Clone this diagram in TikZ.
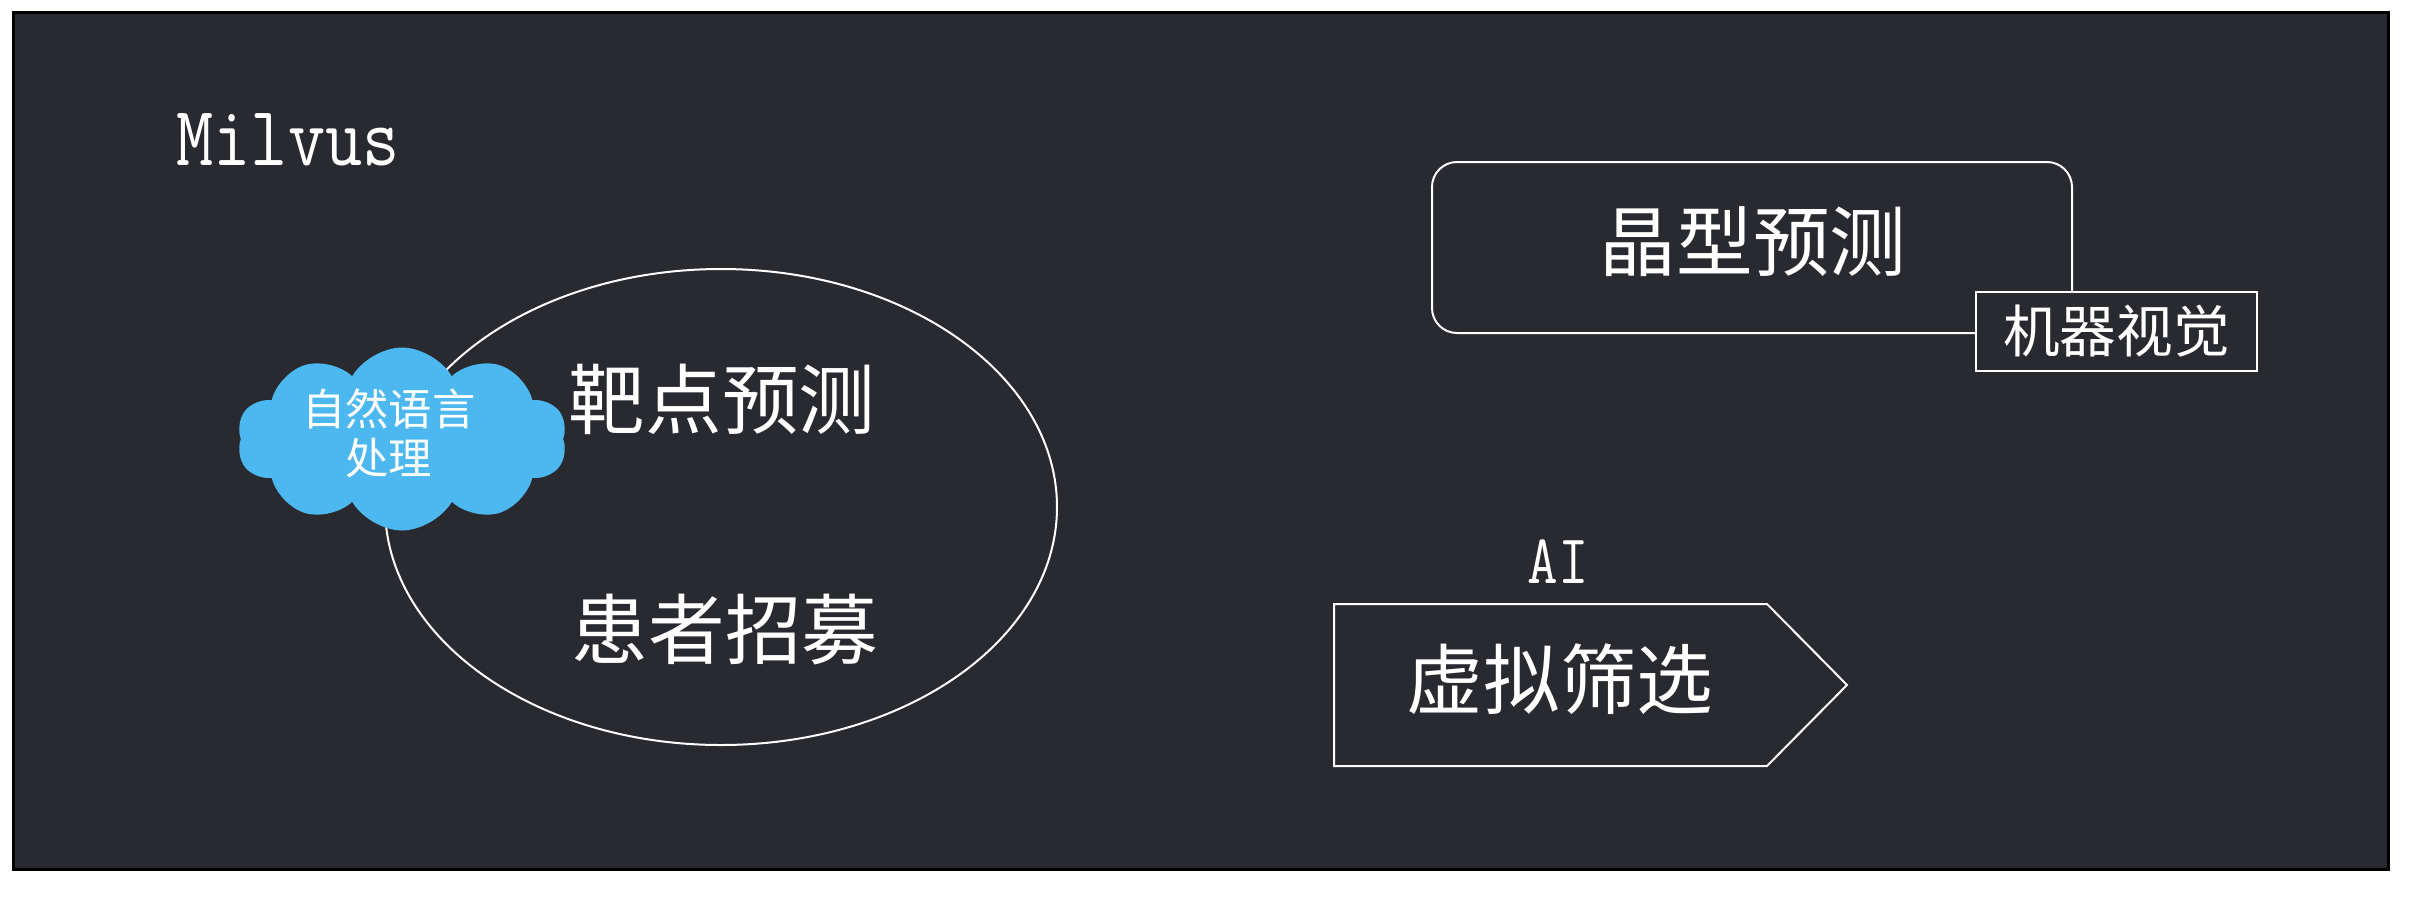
\documentclass[tikz,border=0pt]{standalone}
\usepackage{fontspec}
\newfontfamily\cjk{Noto Sans CJK SC}
\usetikzlibrary{shapes.geometric,shapes.symbols}
\definecolor{bgdark}{RGB}{41,42,47}
\definecolor{cloudblue}{RGB}{77,184,240}
\tikzset{
  lbl/.style={text=white,inner sep=0pt,font=\cjk\fontsize{23pt}{23pt}\selectfont},
  monolbl/.style={text=white,inner sep=0pt,xscale=0.85,font=\ttfamily\fontsize{25.5pt}{25.5pt}\selectfont},
  outline/.style={draw=white,line width=0.6pt},
}
\begin{document}
\begin{tikzpicture}[x=0.3pt,y=-0.3pt]
\useasboundingbox (0,0) rectangle (2420,897);
\fill[white] (0,0) rectangle (2420,897);
\draw[black,line width=0.9pt,fill=bgdark] (13,12) rectangle (2388,869);
\node[monolbl] (milvus) at (288,140) {Milvus};
% ellipse
\node[ellipse,outline,minimum width=201.6pt,minimum height=142.8pt,inner sep=0pt] (ell) at (721,507) {};
\node[cloud,cloud puffs=10,cloud puff arc=120,aspect=1.8,fill=cloudblue,draw=none,minimum width=99pt,minimum height=54.9pt,inner sep=0pt] (nlp) at (402,439) {};
\node[text=white,align=center,font=\cjk\fontsize{13pt}{14.7pt}\selectfont] (nlptext) at (389,433) {自然语言\\处理};
\node[lbl] (target) at (722,399) {靶点预测};
\node[lbl] (patient) at (725,630) {患者招募};
% crystal
\node[outline,rounded corners=7.5pt,minimum width=192pt,minimum height=51.3pt,inner sep=0pt] (crys) at (1752,247.5) {};
\node[lbl] (crystext) at (1753,242) {晶型预测};
\node[draw=white,line width=0.75pt,fill=bgdark,minimum width=84.3pt,minimum height=23.7pt,inner sep=0pt,text=white,font=\cjk\fontsize{17pt}{17pt}\selectfont] (cv) at (2116.5,331.5) {机器视觉};
% AI
\node[monolbl,font=\ttfamily\fontsize{21pt}{21pt}\selectfont] (ai) at (1558,562) {AI};
\coordinate (p1) at (1334,604);
\coordinate (p2) at (1767,604);
\coordinate (p3) at (1847,685);
\coordinate (p4) at (1767,766);
\coordinate (p5) at (1334,766);
\draw[outline,line join=miter] (p1) -- (p2) -- (p3) -- (p4) -- (p5) -- cycle;
\node[lbl] (vs) at (1560,679) {虚拟筛选};
\end{tikzpicture}
\end{document}
